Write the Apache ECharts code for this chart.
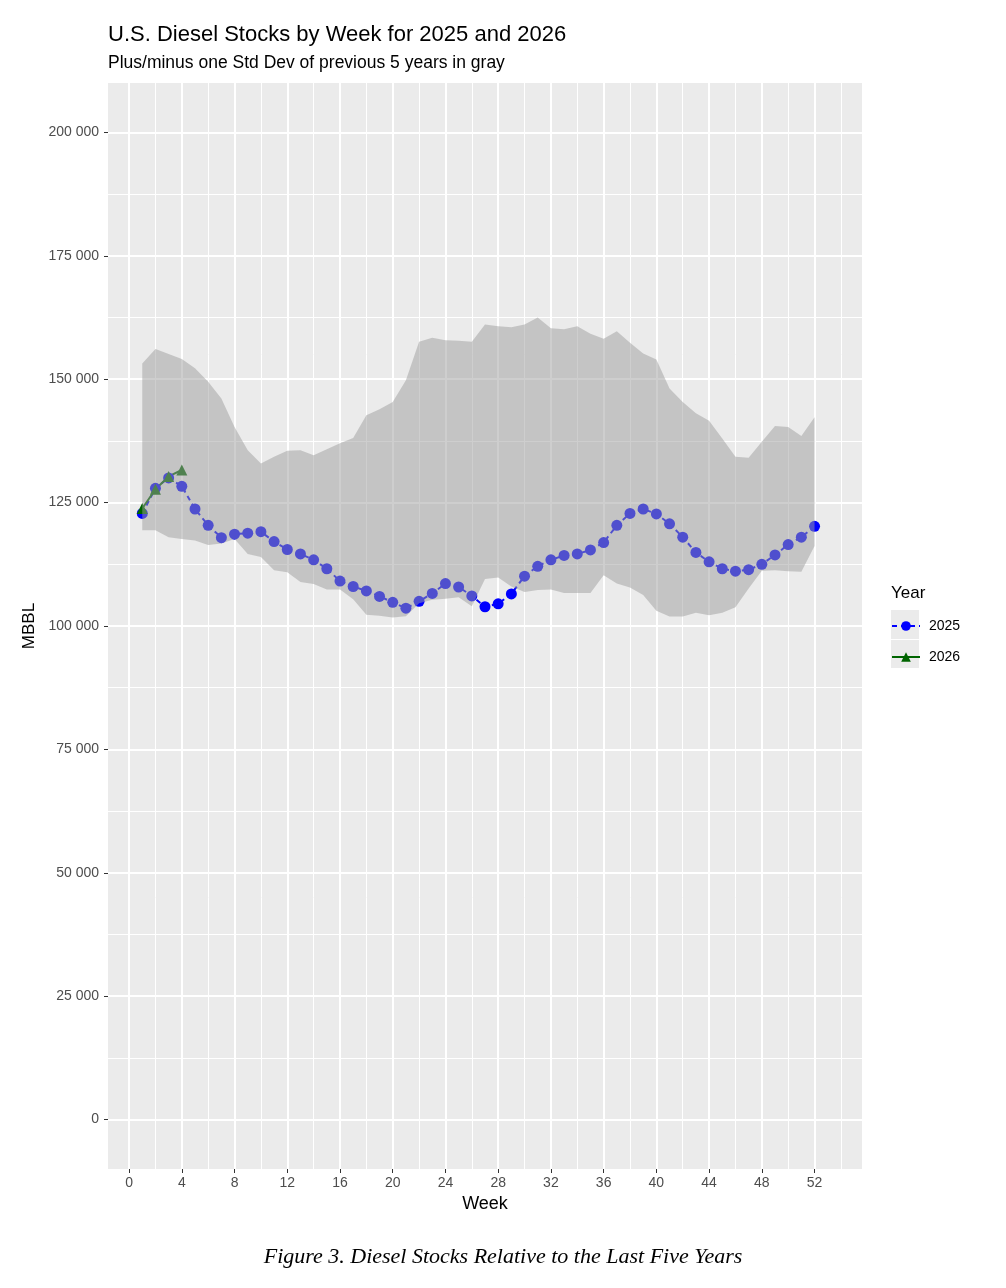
<!DOCTYPE html>
<html>
<head>
<meta charset="utf-8">
<script src="https://cdn.jsdelivr.net/npm/echarts@6/dist/echarts.min.js"></script>
<style>
  html, body { margin: 0; padding: 0; background: #ffffff; }
  #chart { width: 1006px; height: 1288px; }
</style>
</head>
<body>
<div id="chart"></div>
<script>
// ---- data (MBBL) ----
const weeks = [1,2,3,4,5,6,7,8,9,10,11,12,13,14,15,16,17,18,19,20,21,22,23,24,25,26,27,28,29,30,31,32,33,34,35,36,37,38,39,40,41,42,43,44,45,46,47,48,49,50,51,52];
const stocks2025 = [122800,127900,130000,128300,123700,120400,117900,118600,118800,119100,117100,115500,114600,113400,111600,109100,108000,107100,106000,104800,103600,105000,106600,108600,107900,106100,103900,104500,106500,110100,112100,113400,114300,114600,115400,116900,120400,122800,123700,122700,120700,118000,114900,113000,111600,111100,111400,112500,114400,116500,118000,120200];
const weeks2026 = [1,2,3,4];
const stocks2026 = [123800,127700,130300,131600];
const bandUpper = [153200,156100,155100,154100,152200,149500,146100,140300,135600,132900,134300,135500,135600,134600,135800,137000,138100,142700,143900,145400,149800,157600,158400,157900,157800,157600,161100,160700,160500,161100,162500,160300,160100,160700,159200,158200,159700,157400,155200,154000,148100,145400,143100,141600,138000,134300,134100,137300,140500,140300,138500,142300];
const bandLower = [119400,119400,118000,117600,117300,116400,116700,117600,114600,114000,111300,110900,108900,108500,107400,107400,105400,102300,102100,101700,102000,104600,105300,105500,105800,104000,109500,109800,108000,106900,107300,107400,106700,106700,106700,110300,108600,107800,106300,103100,101900,101900,102700,102200,102700,103800,107600,111200,111300,111100,111000,116200];
const xMajorTicks = [0,4,8,12,16,20,24,28,32,36,40,44,48,52];
const xMinorTicks = [2,6,10,14,18,22,26,30,34,38,42,46,50,54];
const yMajorTicks = [0,25000,50000,75000,100000,125000,150000,175000,200000];
const yMinorTicks = [12500,37500,62500,87500,112500,137500,162500,187500];

const FONT = '"Liberation Sans", Arial, Helvetica, sans-serif';
const fmt = v => String(Math.round(v)).replace(/\B(?=(\d{3})+(?!\d))/g, ' ');
const pairs = (xs, ys) => xs.map((x, i) => [x, ys[i]]);
const bandData = weeks.map((w, i) => [w, bandLower[i], bandUpper[i]]);

const chart = echarts.init(document.getElementById('chart'), null, { renderer: 'canvas' });

const option = {
  backgroundColor: '#ffffff',
  animation: false,
  title: [
    { text: 'U.S. Diesel Stocks by Week for 2025 and 2026', left: 108, top: 24, padding: 0,
      textStyle: { fontFamily: FONT, fontSize: 22, fontWeight: 'normal', color: '#000000' } },
    { text: 'Plus/minus one Std Dev of previous 5 years in gray', left: 108, top: 54, padding: 0,
      textStyle: { fontFamily: FONT, fontSize: 17.5, fontWeight: 'normal', color: '#000000' } },
    { text: 'Year', left: 891, top: 585, padding: 0,
      textStyle: { fontFamily: FONT, fontSize: 17, fontWeight: 'normal', color: '#000000' } },
    { text: 'Figure 3. Diesel Stocks Relative to the Last Five Years', left: 'center', top: 1246, padding: 0,
      textStyle: { fontFamily: '"Liberation Serif", "DejaVu Serif", serif', fontStyle: 'italic', fontSize: 22, fontWeight: 'normal', color: '#000000' } }
  ],
  grid: { left: 108, top: 83, width: 754, height: 1086, show: true, backgroundColor: '#EBEBEB', borderWidth: 0, containLabel: false },
  graphic: [
    { type: 'rect', left: 891, top: 610, z: 0, shape: { width: 28, height: 29 }, style: { fill: '#EBEBEB' } },
    { type: 'rect', left: 891, top: 640, z: 0, shape: { width: 28, height: 28 }, style: { fill: '#EBEBEB' } }
  ],
  legend: {
    orient: 'vertical', left: 891, top: 619, padding: 0, z: 10,
    itemWidth: 28, itemHeight: 12, itemGap: 17,
    data: ['2025', '2026'],
    textStyle: { fontFamily: FONT, fontSize: 14, color: '#000000', lineHeight: 12, padding: [0, 0, 0, 4] }
  },
  xAxis: [
    {
      type: 'value', min: -1.6, max: 55.6, gridIndex: 0,
      name: 'Week', nameLocation: 'middle', nameGap: 25,
      nameTextStyle: { fontFamily: FONT, fontSize: 18, color: '#000000' },
      axisLine: { show: false, onZero: false },
      axisTick: { show: true, length: 4, customValues: xMajorTicks, lineStyle: { color: '#333333', width: 1 } },
      axisLabel: { show: true, customValues: xMajorTicks, margin: 7, fontFamily: FONT, fontSize: 14, color: '#4D4D4D' },
      splitLine: { show: true, lineStyle: { color: '#FFFFFF', width: 2 } }
    },
    {
      type: 'value', min: -1.6, max: 55.6, gridIndex: 0, position: 'bottom',
      axisLine: { show: false, onZero: false },
      axisTick: { show: false, customValues: xMinorTicks },
      axisLabel: { show: false, customValues: xMinorTicks },
      splitLine: { show: true, lineStyle: { color: '#FFFFFF', width: 1 } }
    }
  ],
  yAxis: [
    {
      type: 'value', min: -10000, max: 210000, gridIndex: 0,
      name: 'MBBL', nameLocation: 'middle', nameGap: 68, nameRotate: 90,
      nameTextStyle: { fontFamily: FONT, fontSize: 17, color: '#000000' },
      axisLine: { show: false, onZero: false },
      axisTick: { show: true, length: 4, customValues: yMajorTicks, lineStyle: { color: '#333333', width: 1 } },
      axisLabel: { show: true, customValues: yMajorTicks, margin: 9, fontFamily: FONT, fontSize: 14, color: '#4D4D4D', formatter: fmt },
      splitLine: { show: true, lineStyle: { color: '#FFFFFF', width: 2 } }
    },
    {
      type: 'value', min: -10000, max: 210000, gridIndex: 0, position: 'left',
      axisLine: { show: false, onZero: false },
      axisTick: { show: false, customValues: yMinorTicks },
      axisLabel: { show: false, customValues: yMinorTicks },
      splitLine: { show: true, lineStyle: { color: '#FFFFFF', width: 1 } }
    }
  ],
  series: [
    {
      name: '2025', type: 'line', xAxisIndex: 0, yAxisIndex: 0, z: 2,
      data: pairs(weeks, stocks2025),
      symbol: 'circle', symbolSize: 11, showSymbol: true,
      itemStyle: { color: '#0000FF' },
      lineStyle: { color: '#0000FF', width: 2, type: [5, 4] }
    },
    {
      name: '2026', type: 'line', xAxisIndex: 0, yAxisIndex: 0, z: 2,
      data: pairs(weeks2026, stocks2026),
      symbol: 'triangle', symbolSize: 11, showSymbol: true,
      itemStyle: { color: '#006400' },
      lineStyle: { color: '#006400', width: 2, type: 'solid' }
    },
    {
      name: 'band', type: 'custom', xAxisIndex: 0, yAxisIndex: 0, z: 3, silent: true,
      data: bandData,
      encode: { x: 0, y: [1, 2] },
      renderItem: function (params, api) {
        if (params.dataIndex !== 0) return null;
        const pts = [];
        for (let i = 0; i < bandData.length; i++) pts.push(api.coord([bandData[i][0], bandData[i][2]]));
        for (let i = bandData.length - 1; i >= 0; i--) pts.push(api.coord([bandData[i][0], bandData[i][1]]));
        return { type: 'polygon', shape: { points: pts }, style: { fill: 'rgba(158,158,158,0.5)' } };
      }
    }
  ]
};
chart.setOption(option);
</script>
</body>
</html>
